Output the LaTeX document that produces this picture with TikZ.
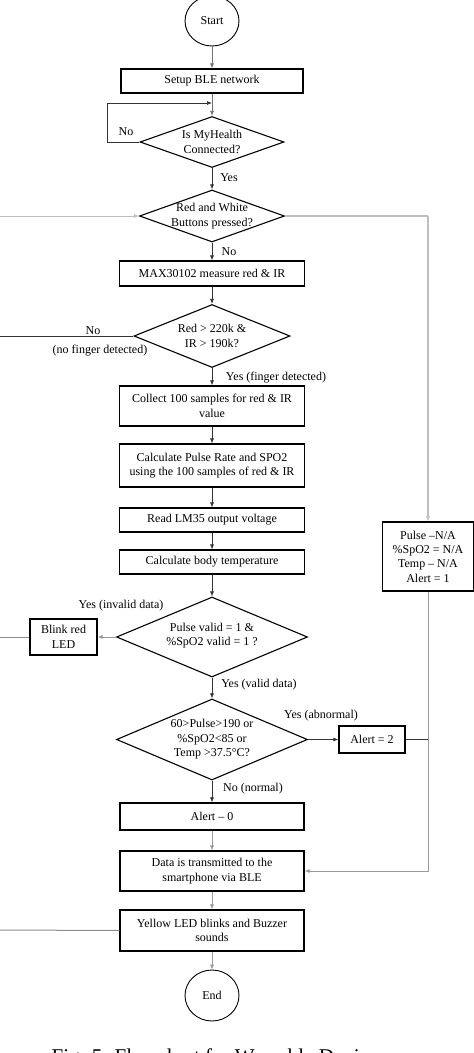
\documentclass[tikz,border=0pt]{standalone}
\usepackage{fontspec}
\setmainfont{Liberation Serif}
\usetikzlibrary{shapes.geometric,arrows.meta}
\begin{document}
\begin{tikzpicture}[x=1pt,y=-1pt,
  font=\fontsize{12}{14.4}\selectfont,
  box/.style={draw,line width=1.1pt,rectangle,inner sep=0pt,align=center},
  dia/.style={draw,line width=1.1pt,diamond,inner sep=0pt},
  term/.style={draw,line width=0.9pt,ellipse,inner sep=0pt},
  lbl/.style={inner sep=0pt,align=center},
  flow/.style={draw=black!80,line width=0.7pt,-{Latex[length=5pt,width=4pt]}},
  plain/.style={draw=black!80,line width=0.7pt},
  faint/.style={draw=black!25,line width=1.2pt},
  mid/.style={draw=black!45,line width=1pt}
]
\useasboundingbox (0,0) rectangle (474,1053);
\clip (0,0) rectangle (474,1053);

% terminals
\node[term,minimum width=54pt,minimum height=50pt] (start) at (212,21) {};
\node[lbl] (startt) at (start) {Start};
\node[term,minimum width=54pt,minimum height=51pt] (end) at (212,995.5) {};
\node[lbl] (endt) at (end) {End};

% process boxes
\node[box,minimum width=182pt,minimum height=24pt] (setup) at (212,81) {Setup BLE network};
\node[box,minimum width=185pt,minimum height=25pt] (max) at (212,273.5) {MAX30102 measure red \& IR};
\node[box,minimum width=185pt,minimum height=40pt] (collect) at (212,406) {Collect 100 samples for red \& IR\\value};
\node[box,minimum width=185pt,minimum height=43pt] (calc) at (212,465.5) {Calculate Pulse Rate and SPO2\\using the 100 samples of red \& IR};
\node[box,minimum width=185pt,minimum height=24pt] (read) at (212,520) {Read LM35 output voltage};
\node[box,minimum width=185pt,minimum height=24pt] (temp) at (212,562) {Calculate body temperature};
\node[box,minimum width=184pt,minimum height=27pt] (alertz) at (212,816.5) {Alert -- 0};
\node[box,minimum width=184pt,minimum height=40pt] (data) at (212,871) {Data is transmitted to the\\smartphone via BLE};
\node[box,minimum width=184pt,minimum height=41pt] (yellow) at (212,930.5) {Yellow LED blinks and Buzzer\\sounds};
\node[box,minimum width=67pt,minimum height=36pt] (blink) at (63.5,637) {Blink red\\LED};
\node[box,minimum width=66pt,minimum height=27pt] (alerttwo) at (372,739.5) {Alert = 2};
\node[box,minimum width=91pt,minimum height=69pt] (pulse) at (428,556.5) {Pulse --N/A\\\%SpO2 = N/A\\Temp -- N/A\\Alert = 1};

% decisions
\node[dia,minimum width=144pt,minimum height=51pt] (d1) at (212,142) {};
\node[lbl] (d1t) at (d1) {Is MyHealth\\Connected?};
\node[dia,minimum width=145pt,minimum height=52pt] (d2) at (212,216) {};
\node[lbl] (d2t) at (d2) {Red and White\\Buttons pressed?};
\node[dia,minimum width=156pt,minimum height=63pt] (d3) at (212,336) {};
\node[lbl] (d3t) at (d3) {Red {>} 220k \&\\IR {>} 190k?};
\node[dia,minimum width=191pt,minimum height=80pt] (d4) at (212,637) {};
\node[lbl] (d4t) at ([yshift=1.5pt]d4.center) {Pulse valid = 1 \&\\\%SpO2 valid = 1 ?};
\node[dia,minimum width=191pt,minimum height=81pt] (d5) at (212,739.5) {};
\node[lbl] (d5t) at (d5) {60{>}Pulse{>}190 or\\\%SpO2{<}85 or\\Temp {>}37.5\textdegree C?};

% free ends at the left edge
\coordinate (e1) at (0,216);
\coordinate (e2) at (0,336);
\coordinate (e3) at (0,637);
\coordinate (e4) at (0,930);
\coordinate (m1) at (212,103);
\coordinate (r1) at (428,216);

% connectors
\draw[flow,draw=black!55] (start) -- (setup);
\draw[flow,draw=black!55] (setup) -- (d1);
\draw[flow] (d1.west) -- ++(-32,0) |- (m1);
\draw[flow] (d1) -- (d2);
\draw[flow,draw=black!25] (e1) -- (d2.west);
\draw[faint] (d2.east) -- (r1);
\draw[flow,draw=black!25,line width=1.2pt] (r1) -- (pulse.north);
\draw[flow] (d2) -- (max);
\draw[flow] (max) -- (d3);
\draw[plain] (d3.west) -- (e2);
\draw[flow] (d3) -- (collect);
\draw[flow] (collect) -- (calc);
\draw[flow] (calc) -- (read);
\draw[flow] (read) -- (temp);
\draw[flow] (temp) -- (d4);
\draw[flow,draw=black!40] (d4.west) -- (blink.east);
\draw[mid] (blink.west) -- (e3);
\draw[flow] (d4) -- (d5);
\draw[flow] (d5.east) -- (alerttwo.west);
\draw[plain] (alerttwo.east) -- (alerttwo.east -| pulse.south);
\draw[flow,draw=black!40,line width=1pt] (pulse.south) |- (data.east);
\draw[flow] (d5) -- (alertz);
\draw[flow,draw=black!40] (alertz) -- (data);
\draw[flow,draw=black!40] (data) -- (yellow);
\draw[flow,draw=black!40] (yellow) -- (end);
\draw[mid] (e4) -- (yellow.west);

% labels
\node[lbl] (l1) at (126,132) {No};
\node[lbl] (l2) at (229,178) {Yes};
\node[lbl] (l3) at (229,252) {No};
\node[lbl] (l4) at (93,331) {No};
\node[lbl] (l5) at (100,351) {(no finger detected)};
\node[lbl] (l6) at (276,378) {Yes (finger detected)};
\node[lbl] (l7) at (121,606) {Yes (invalid data)};
\node[lbl] (l8) at (259,685) {Yes (valid data)};
\node[lbl] (l9) at (321,716) {Yes (abnormal)};
\node[lbl] (l10) at (253,789) {No (normal)};

% caption (cut off by the bottom edge, as in the reference)
\node[inner sep=0pt,anchor=base,font=\fontsize{21}{25}\selectfont] (cap) at (215,1063) {Fig. 5. Flowchart for Wearable Device};
\end{tikzpicture}
\end{document}
